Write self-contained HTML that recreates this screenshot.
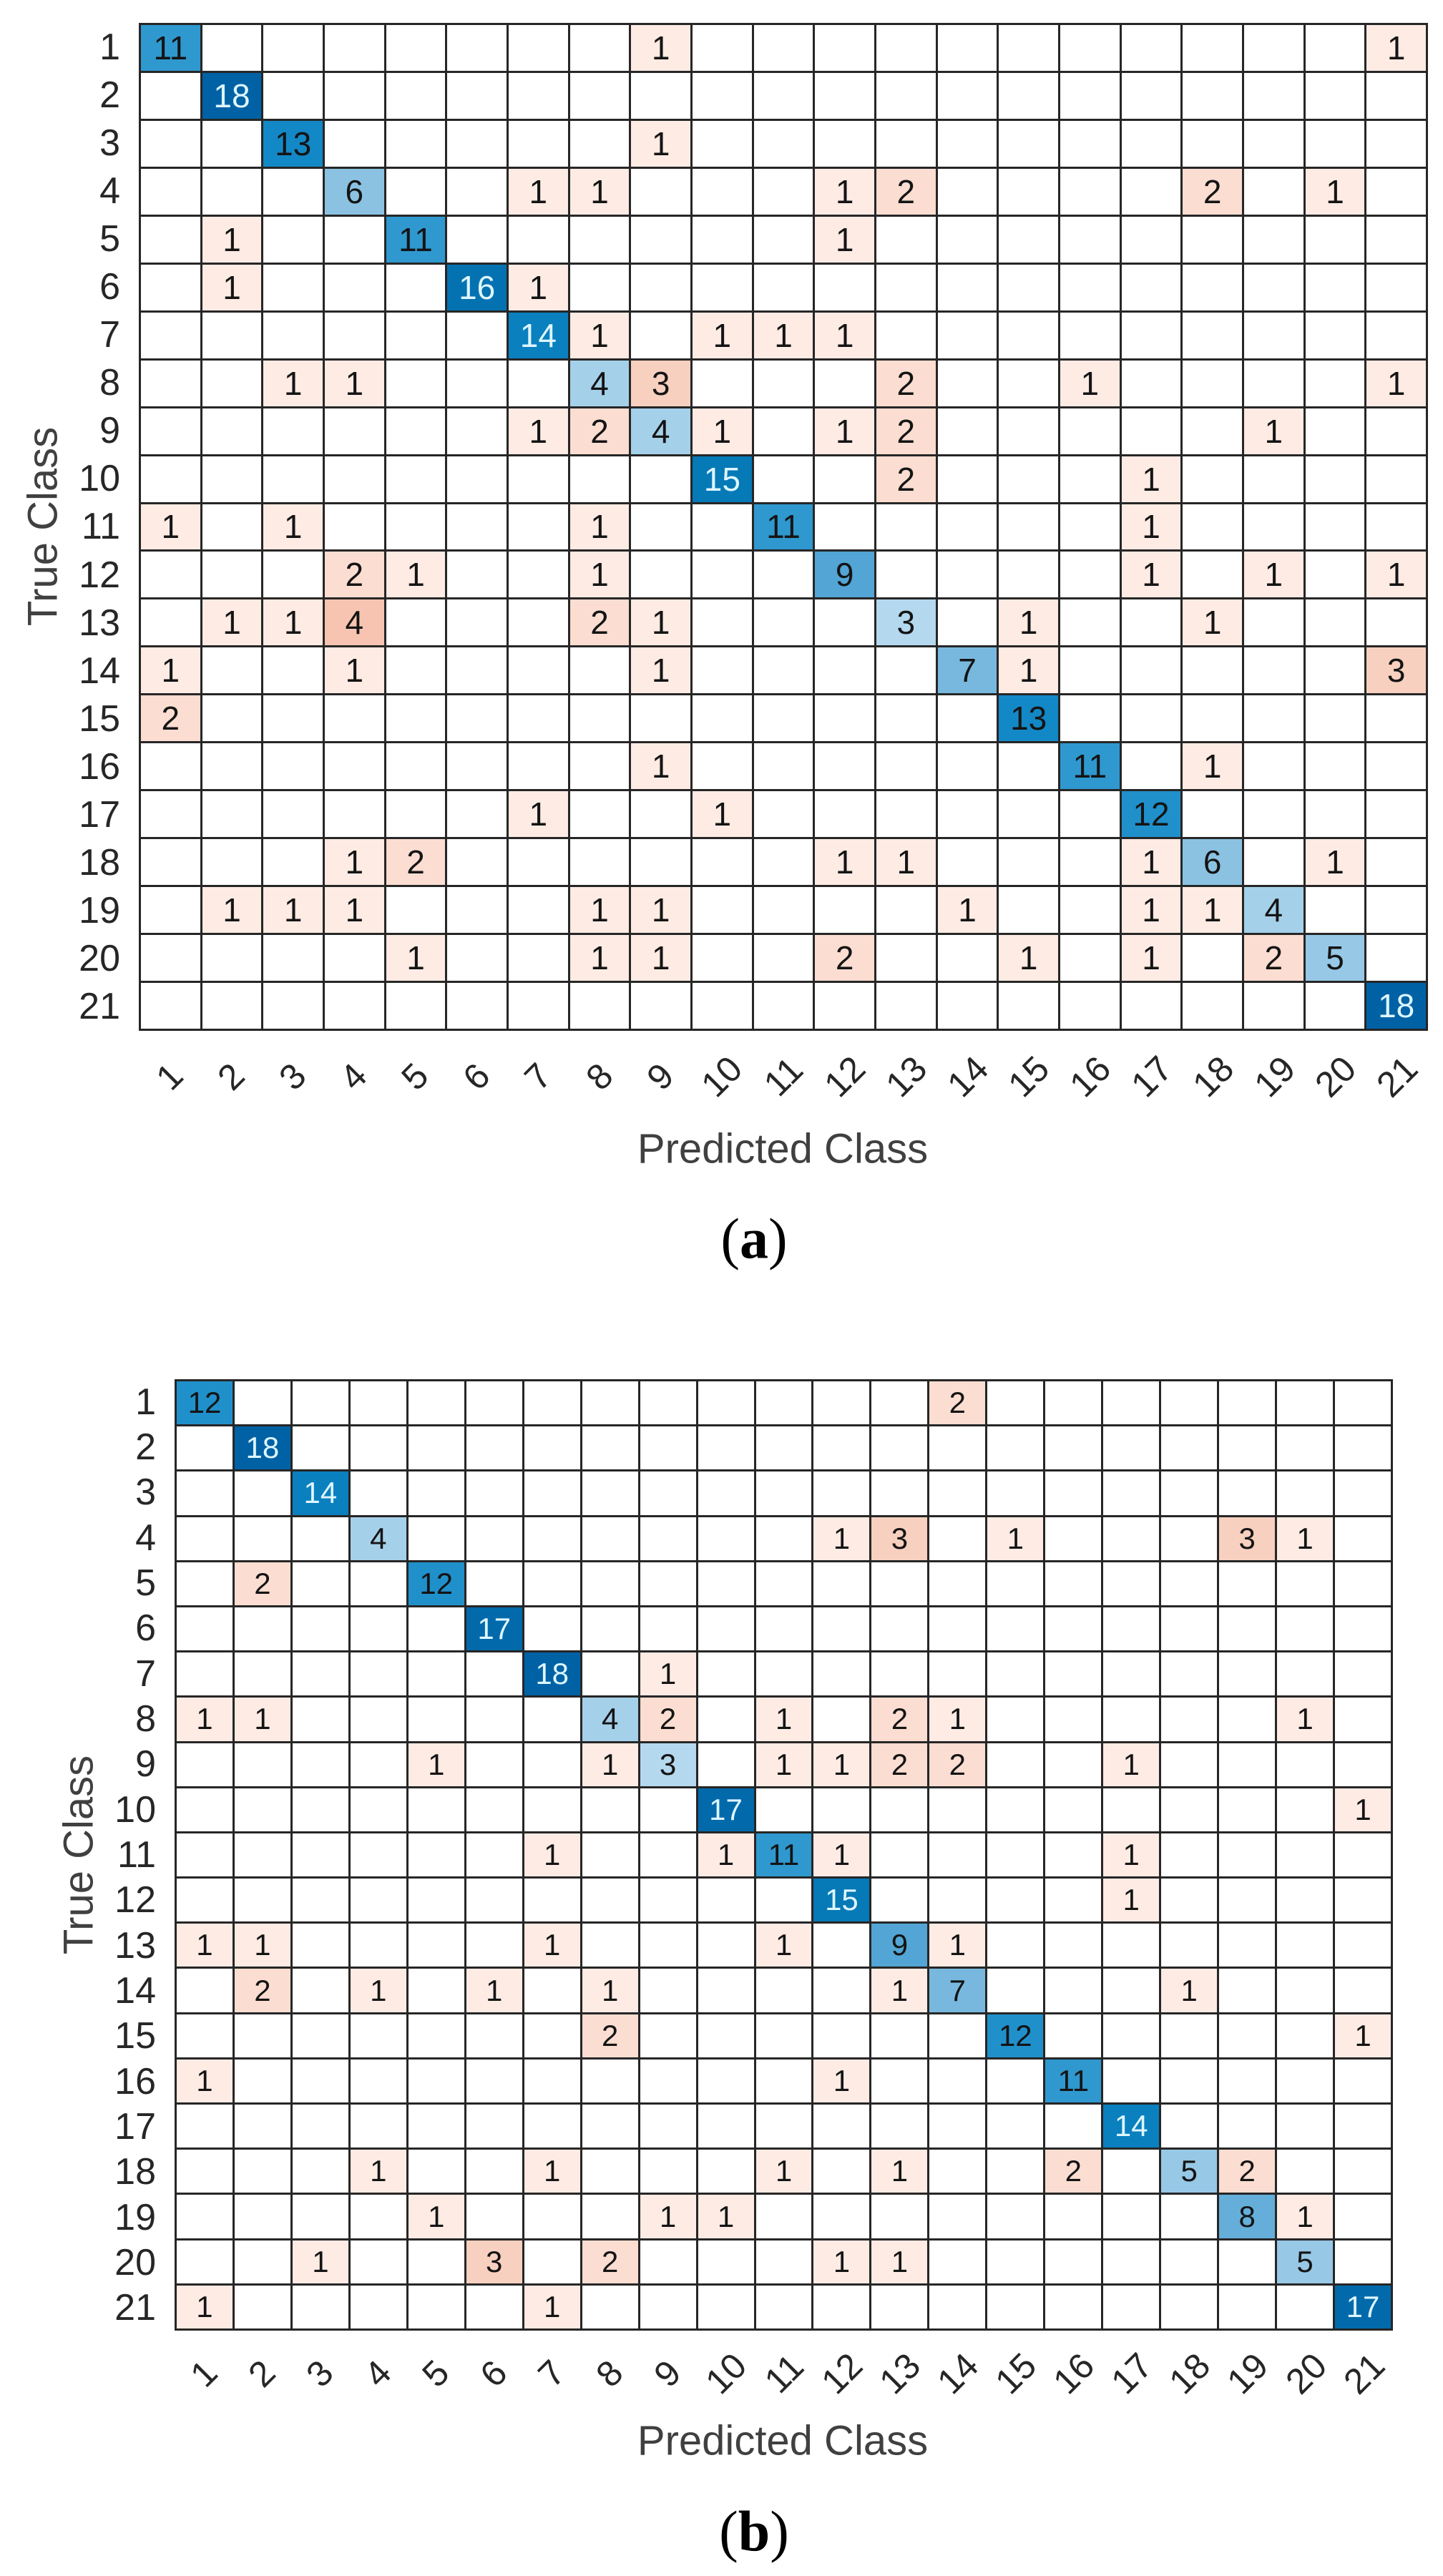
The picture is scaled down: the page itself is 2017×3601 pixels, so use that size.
<!DOCTYPE html>
<html><head><meta charset="utf-8"><style>
html,body{margin:0;padding:0;background:#fff}
body{width:2017px;height:3601px;position:relative;overflow:hidden;font-family:"Liberation Sans",Arial,sans-serif}
.g{position:absolute;display:grid;background:#262626;gap:3px;padding:3px;box-sizing:border-box;grid-template-columns:repeat(21,1fr);grid-template-rows:repeat(21,1fr)}
.g i{background:#fff;display:flex;align-items:center;justify-content:center;font-style:normal;color:#141414;overflow:hidden}
#ga{left:194px;top:32px;width:1802px;height:1409px;font-size:46px}
#gb{left:244px;top:1928px;width:1703px;height:1330px;font-size:42px}
.g i.o1{background:#fdebe4}.g i.o2{background:#fbddd1}.g i.o3{background:#f8d0bf}.g i.o4{background:#f6c4b0}
.g i.d3{background:#b4d8ee}.g i.d4{background:#a5d0ea}.g i.d5{background:#97c8e6}.g i.d6{background:#8bc2e2}.g i.d7{background:#78b8de}.g i.d8{background:#64aed9}.g i.d9{background:#52a5d5}
.g i.d11{background:#2f98cf}.g i.d12{background:#2090cb}.g i.d13{background:#1388c6}
.g i.d14{background:#0a80bf;color:#def6ff}.g i.d15{background:#0679b7;color:#def6ff}.g i.d16{background:#0472b1;color:#def6ff}.g i.d17{background:#026aab;color:#def6ff}.g i.d18{background:#0062a5;color:#def6ff}
.yl{position:absolute;display:grid;grid-template-rows:repeat(21,1fr);font-size:52px;color:#262626;text-align:right}
.yl span{display:flex;align-items:center;justify-content:flex-end}
.xl{position:absolute;display:grid;grid-template-columns:repeat(21,1fr);font-size:50px;color:#262626;height:60px}
.xl span{display:flex;align-items:center;justify-content:center}
.xl span b{font-weight:normal;display:inline-block;transform:rotate(-45deg)}
.t{position:absolute;transform:translate(-50%,-50%);white-space:nowrap}
.ax{font-size:58px;color:#404040}
.cap{font-family:"Liberation Serif",serif;font-size:80px;color:#000}
</style></head><body>

<div class="yl" style="left:0;top:32px;width:168px;height:1409px"><span>1</span><span>2</span><span>3</span><span>4</span><span>5</span><span>6</span><span>7</span><span>8</span><span>9</span><span>10</span><span>11</span><span>12</span><span>13</span><span>14</span><span>15</span><span>16</span><span>17</span><span>18</span><span>19</span><span>20</span><span>21</span></div>

<div class="g" id="ga">
<i class="d11">11</i><i></i><i></i><i></i><i></i><i></i><i></i><i></i><i class="o1">1</i><i></i><i></i><i></i><i></i><i></i><i></i><i></i><i></i><i></i><i></i><i></i><i class="o1">1</i>
<i></i><i class="d18">18</i><i></i><i></i><i></i><i></i><i></i><i></i><i></i><i></i><i></i><i></i><i></i><i></i><i></i><i></i><i></i><i></i><i></i><i></i><i></i>
<i></i><i></i><i class="d13">13</i><i></i><i></i><i></i><i></i><i></i><i class="o1">1</i><i></i><i></i><i></i><i></i><i></i><i></i><i></i><i></i><i></i><i></i><i></i><i></i>
<i></i><i></i><i></i><i class="d6">6</i><i></i><i></i><i class="o1">1</i><i class="o1">1</i><i></i><i></i><i></i><i class="o1">1</i><i class="o2">2</i><i></i><i></i><i></i><i></i><i class="o2">2</i><i></i><i class="o1">1</i><i></i>
<i></i><i class="o1">1</i><i></i><i></i><i class="d11">11</i><i></i><i></i><i></i><i></i><i></i><i></i><i class="o1">1</i><i></i><i></i><i></i><i></i><i></i><i></i><i></i><i></i><i></i>
<i></i><i class="o1">1</i><i></i><i></i><i></i><i class="d16">16</i><i class="o1">1</i><i></i><i></i><i></i><i></i><i></i><i></i><i></i><i></i><i></i><i></i><i></i><i></i><i></i><i></i>
<i></i><i></i><i></i><i></i><i></i><i></i><i class="d14">14</i><i class="o1">1</i><i></i><i class="o1">1</i><i class="o1">1</i><i class="o1">1</i><i></i><i></i><i></i><i></i><i></i><i></i><i></i><i></i><i></i>
<i></i><i></i><i class="o1">1</i><i class="o1">1</i><i></i><i></i><i></i><i class="d4">4</i><i class="o3">3</i><i></i><i></i><i></i><i class="o2">2</i><i></i><i></i><i class="o1">1</i><i></i><i></i><i></i><i></i><i class="o1">1</i>
<i></i><i></i><i></i><i></i><i></i><i></i><i class="o1">1</i><i class="o2">2</i><i class="d4">4</i><i class="o1">1</i><i></i><i class="o1">1</i><i class="o2">2</i><i></i><i></i><i></i><i></i><i></i><i class="o1">1</i><i></i><i></i>
<i></i><i></i><i></i><i></i><i></i><i></i><i></i><i></i><i></i><i class="d15">15</i><i></i><i></i><i class="o2">2</i><i></i><i></i><i></i><i class="o1">1</i><i></i><i></i><i></i><i></i>
<i class="o1">1</i><i></i><i class="o1">1</i><i></i><i></i><i></i><i></i><i class="o1">1</i><i></i><i></i><i class="d11">11</i><i></i><i></i><i></i><i></i><i></i><i class="o1">1</i><i></i><i></i><i></i><i></i>
<i></i><i></i><i></i><i class="o2">2</i><i class="o1">1</i><i></i><i></i><i class="o1">1</i><i></i><i></i><i></i><i class="d9">9</i><i></i><i></i><i></i><i></i><i class="o1">1</i><i></i><i class="o1">1</i><i></i><i class="o1">1</i>
<i></i><i class="o1">1</i><i class="o1">1</i><i class="o4">4</i><i></i><i></i><i></i><i class="o2">2</i><i class="o1">1</i><i></i><i></i><i></i><i class="d3">3</i><i></i><i class="o1">1</i><i></i><i></i><i class="o1">1</i><i></i><i></i><i></i>
<i class="o1">1</i><i></i><i></i><i class="o1">1</i><i></i><i></i><i></i><i></i><i class="o1">1</i><i></i><i></i><i></i><i></i><i class="d7">7</i><i class="o1">1</i><i></i><i></i><i></i><i></i><i></i><i class="o3">3</i>
<i class="o2">2</i><i></i><i></i><i></i><i></i><i></i><i></i><i></i><i></i><i></i><i></i><i></i><i></i><i></i><i class="d13">13</i><i></i><i></i><i></i><i></i><i></i><i></i>
<i></i><i></i><i></i><i></i><i></i><i></i><i></i><i></i><i class="o1">1</i><i></i><i></i><i></i><i></i><i></i><i></i><i class="d11">11</i><i></i><i class="o1">1</i><i></i><i></i><i></i>
<i></i><i></i><i></i><i></i><i></i><i></i><i class="o1">1</i><i></i><i></i><i class="o1">1</i><i></i><i></i><i></i><i></i><i></i><i></i><i class="d12">12</i><i></i><i></i><i></i><i></i>
<i></i><i></i><i></i><i class="o1">1</i><i class="o2">2</i><i></i><i></i><i></i><i></i><i></i><i></i><i class="o1">1</i><i class="o1">1</i><i></i><i></i><i></i><i class="o1">1</i><i class="d6">6</i><i></i><i class="o1">1</i><i></i>
<i></i><i class="o1">1</i><i class="o1">1</i><i class="o1">1</i><i></i><i></i><i></i><i class="o1">1</i><i class="o1">1</i><i></i><i></i><i></i><i></i><i class="o1">1</i><i></i><i></i><i class="o1">1</i><i class="o1">1</i><i class="d4">4</i><i></i><i></i>
<i></i><i></i><i></i><i></i><i class="o1">1</i><i></i><i></i><i class="o1">1</i><i class="o1">1</i><i></i><i></i><i class="o2">2</i><i></i><i></i><i class="o1">1</i><i></i><i class="o1">1</i><i></i><i class="o2">2</i><i class="d5">5</i><i></i>
<i></i><i></i><i></i><i></i><i></i><i></i><i></i><i></i><i></i><i></i><i></i><i></i><i></i><i></i><i></i><i></i><i></i><i></i><i></i><i></i><i class="d18">18</i>
</div>

<div class="xl" style="left:194px;top:1475px;width:1802px"><span><b>1</b></span><span><b>2</b></span><span><b>3</b></span><span><b>4</b></span><span><b>5</b></span><span><b>6</b></span><span><b>7</b></span><span><b>8</b></span><span><b>9</b></span><span><b>10</b></span><span><b>11</b></span><span><b>12</b></span><span><b>13</b></span><span><b>14</b></span><span><b>15</b></span><span><b>16</b></span><span><b>17</b></span><span><b>18</b></span><span><b>19</b></span><span><b>20</b></span><span><b>21</b></span></div>

<div class="t ax" style="left:60px;top:736px;transform:translate(-50%,-50%) rotate(-90deg)">True Class</div>
<div class="t ax" style="left:1094px;top:1606px">Predicted Class</div>
<div class="t cap" style="left:1054px;top:1733px">(<b>a</b>)</div>

<div class="yl" style="left:0;top:1928px;width:218px;height:1330px"><span>1</span><span>2</span><span>3</span><span>4</span><span>5</span><span>6</span><span>7</span><span>8</span><span>9</span><span>10</span><span>11</span><span>12</span><span>13</span><span>14</span><span>15</span><span>16</span><span>17</span><span>18</span><span>19</span><span>20</span><span>21</span></div>

<div class="g" id="gb">
<i class="d12">12</i><i></i><i></i><i></i><i></i><i></i><i></i><i></i><i></i><i></i><i></i><i></i><i></i><i class="o2">2</i><i></i><i></i><i></i><i></i><i></i><i></i><i></i>
<i></i><i class="d18">18</i><i></i><i></i><i></i><i></i><i></i><i></i><i></i><i></i><i></i><i></i><i></i><i></i><i></i><i></i><i></i><i></i><i></i><i></i><i></i>
<i></i><i></i><i class="d14">14</i><i></i><i></i><i></i><i></i><i></i><i></i><i></i><i></i><i></i><i></i><i></i><i></i><i></i><i></i><i></i><i></i><i></i><i></i>
<i></i><i></i><i></i><i class="d4">4</i><i></i><i></i><i></i><i></i><i></i><i></i><i></i><i class="o1">1</i><i class="o3">3</i><i></i><i class="o1">1</i><i></i><i></i><i></i><i class="o3">3</i><i class="o1">1</i><i></i>
<i></i><i class="o2">2</i><i></i><i></i><i class="d12">12</i><i></i><i></i><i></i><i></i><i></i><i></i><i></i><i></i><i></i><i></i><i></i><i></i><i></i><i></i><i></i><i></i>
<i></i><i></i><i></i><i></i><i></i><i class="d17">17</i><i></i><i></i><i></i><i></i><i></i><i></i><i></i><i></i><i></i><i></i><i></i><i></i><i></i><i></i><i></i>
<i></i><i></i><i></i><i></i><i></i><i></i><i class="d18">18</i><i></i><i class="o1">1</i><i></i><i></i><i></i><i></i><i></i><i></i><i></i><i></i><i></i><i></i><i></i><i></i>
<i class="o1">1</i><i class="o1">1</i><i></i><i></i><i></i><i></i><i></i><i class="d4">4</i><i class="o2">2</i><i></i><i class="o1">1</i><i></i><i class="o2">2</i><i class="o1">1</i><i></i><i></i><i></i><i></i><i></i><i class="o1">1</i><i></i>
<i></i><i></i><i></i><i></i><i class="o1">1</i><i></i><i></i><i class="o1">1</i><i class="d3">3</i><i></i><i class="o1">1</i><i class="o1">1</i><i class="o2">2</i><i class="o2">2</i><i></i><i></i><i class="o1">1</i><i></i><i></i><i></i><i></i>
<i></i><i></i><i></i><i></i><i></i><i></i><i></i><i></i><i></i><i class="d17">17</i><i></i><i></i><i></i><i></i><i></i><i></i><i></i><i></i><i></i><i></i><i class="o1">1</i>
<i></i><i></i><i></i><i></i><i></i><i></i><i class="o1">1</i><i></i><i></i><i class="o1">1</i><i class="d11">11</i><i class="o1">1</i><i></i><i></i><i></i><i></i><i class="o1">1</i><i></i><i></i><i></i><i></i>
<i></i><i></i><i></i><i></i><i></i><i></i><i></i><i></i><i></i><i></i><i></i><i class="d15">15</i><i></i><i></i><i></i><i></i><i class="o1">1</i><i></i><i></i><i></i><i></i>
<i class="o1">1</i><i class="o1">1</i><i></i><i></i><i></i><i></i><i class="o1">1</i><i></i><i></i><i></i><i class="o1">1</i><i></i><i class="d9">9</i><i class="o1">1</i><i></i><i></i><i></i><i></i><i></i><i></i><i></i>
<i></i><i class="o2">2</i><i></i><i class="o1">1</i><i></i><i class="o1">1</i><i></i><i class="o1">1</i><i></i><i></i><i></i><i></i><i class="o1">1</i><i class="d7">7</i><i></i><i></i><i></i><i class="o1">1</i><i></i><i></i><i></i>
<i></i><i></i><i></i><i></i><i></i><i></i><i></i><i class="o2">2</i><i></i><i></i><i></i><i></i><i></i><i></i><i class="d12">12</i><i></i><i></i><i></i><i></i><i></i><i class="o1">1</i>
<i class="o1">1</i><i></i><i></i><i></i><i></i><i></i><i></i><i></i><i></i><i></i><i></i><i class="o1">1</i><i></i><i></i><i></i><i class="d11">11</i><i></i><i></i><i></i><i></i><i></i>
<i></i><i></i><i></i><i></i><i></i><i></i><i></i><i></i><i></i><i></i><i></i><i></i><i></i><i></i><i></i><i></i><i class="d14">14</i><i></i><i></i><i></i><i></i>
<i></i><i></i><i></i><i class="o1">1</i><i></i><i></i><i class="o1">1</i><i></i><i></i><i></i><i class="o1">1</i><i></i><i class="o1">1</i><i></i><i></i><i class="o2">2</i><i></i><i class="d5">5</i><i class="o2">2</i><i></i><i></i>
<i></i><i></i><i></i><i></i><i class="o1">1</i><i></i><i></i><i></i><i class="o1">1</i><i class="o1">1</i><i></i><i></i><i></i><i></i><i></i><i></i><i></i><i></i><i class="d8">8</i><i class="o1">1</i><i></i>
<i></i><i></i><i class="o1">1</i><i></i><i></i><i class="o3">3</i><i></i><i class="o2">2</i><i></i><i></i><i></i><i class="o1">1</i><i class="o1">1</i><i></i><i></i><i></i><i></i><i></i><i></i><i class="d5">5</i><i></i>
<i class="o1">1</i><i></i><i></i><i></i><i></i><i></i><i class="o1">1</i><i></i><i></i><i></i><i></i><i></i><i></i><i></i><i></i><i></i><i></i><i></i><i></i><i></i><i class="d17">17</i>
</div>

<div class="xl" style="left:244px;top:3288px;width:1703px"><span><b>1</b></span><span><b>2</b></span><span><b>3</b></span><span><b>4</b></span><span><b>5</b></span><span><b>6</b></span><span><b>7</b></span><span><b>8</b></span><span><b>9</b></span><span><b>10</b></span><span><b>11</b></span><span><b>12</b></span><span><b>13</b></span><span><b>14</b></span><span><b>15</b></span><span><b>16</b></span><span><b>17</b></span><span><b>18</b></span><span><b>19</b></span><span><b>20</b></span><span><b>21</b></span></div>

<div class="t ax" style="left:110px;top:2593px;transform:translate(-50%,-50%) rotate(-90deg)">True Class</div>
<div class="t ax" style="left:1094px;top:3412px">Predicted Class</div>
<div class="t cap" style="left:1054px;top:3540px">(<b>b</b>)</div>

</body></html>
